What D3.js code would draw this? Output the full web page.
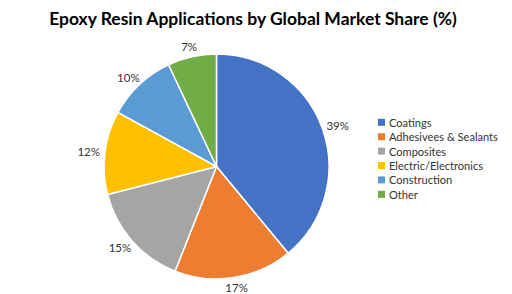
<!DOCTYPE html>
<html>
<head>
<meta charset="utf-8">
<script src="https://cdn.jsdelivr.net/npm/d3@7"></script>
<style>
  body { margin: 0; background: #fff; }
  text { font-family: Lato, "Open Sans", sans-serif; fill: #333; }
</style>
</head>
<body>
<div id="chart"></div>
<script>
const categories = ["Coatings", "Adhesivees & Sealants", "Composites", "Electric/Electronics", "Construction", "Other"];
const shares = [39, 17, 15, 12, 10, 7];
const colors = ["#4472C4", "#ED7D31", "#A5A5A5", "#FFC000", "#5B9BD5", "#70AD47"];
const title = "Epoxy Resin Applications by Global Market Share (%)";

const width = 512, height = 294;
const cx = 216.5, cy = 166.5, radius = 112.5;

const svg = d3.select("#chart").append("svg")
  .attr("width", width).attr("height", height);

// title, sized to match the reference width
const t = svg.append("text")
  .attr("x", 253).attr("y", 18)
  .attr("text-anchor", "middle")
  .attr("dominant-baseline", "central")
  .style("font-weight", "bold")
  .style("fill", "#000")
  .style("font-size", "16px")
  .text(title);
const tw = t.node().getComputedTextLength();
t.style("font-size", (16 * 408 / tw) + "px");

const color = d3.scaleOrdinal().domain(categories).range(colors);
const pie = d3.pie().sort(null).value(d => d.value);
const arcs = pie(categories.map((c, i) => ({ name: c, value: shares[i] })));
const arc = d3.arc().innerRadius(0).outerRadius(radius);

const g = svg.append("g").attr("transform", `translate(${cx},${cy})`);

g.selectAll("path")
  .data(arcs)
  .join("path")
  .attr("d", arc)
  .attr("fill", d => color(d.data.name))
  .attr("stroke", "#fff")
  .attr("stroke-width", 1.5);

// outside-end labels
const gap = 5;
g.selectAll("text.lbl")
  .data(arcs)
  .join("text")
  .attr("class", "lbl")
  .attr("text-anchor", "middle")
  .attr("dominant-baseline", "central")
  .style("font-size", "11.5px")
  .text(d => d.data.value + "%")
  .each(function(d) {
    const a = (d.startAngle + d.endAngle) / 2;
    const s = Math.sin(a), c = -Math.cos(a);
    const w = this.getComputedTextLength(), h = 10;
    const x = (radius + gap) * s + s * w / 2;
    const y = (radius + gap) * c + c * h / 2;
    d3.select(this).attr("x", x).attr("y", y);
  });

// legend
const legend = svg.append("g").attr("transform", "translate(378,122.3)");
const row = d3.scaleBand().domain(categories).range([0, 14.4 * categories.length]);
const items = legend.selectAll("g")
  .data(categories)
  .join("g")
  .attr("transform", d => `translate(0,${row(d)})`);
items.append("rect")
  .attr("x", 0).attr("y", -3.5)
  .attr("width", 7).attr("height", 7)
  .attr("fill", d => color(d));
const ltext = items.append("text")
  .attr("x", 11).attr("y", 0)
  .attr("dominant-baseline", "central")
  .style("font-size", "12px")
  .text(d => d);
// fit legend font to the reference width of the longest entry
const lw = d3.max(ltext.nodes(), n => n.getComputedTextLength());
ltext.style("font-size", Math.min(13, 12 * 109 / lw) + "px");
</script>
</body>
</html>
